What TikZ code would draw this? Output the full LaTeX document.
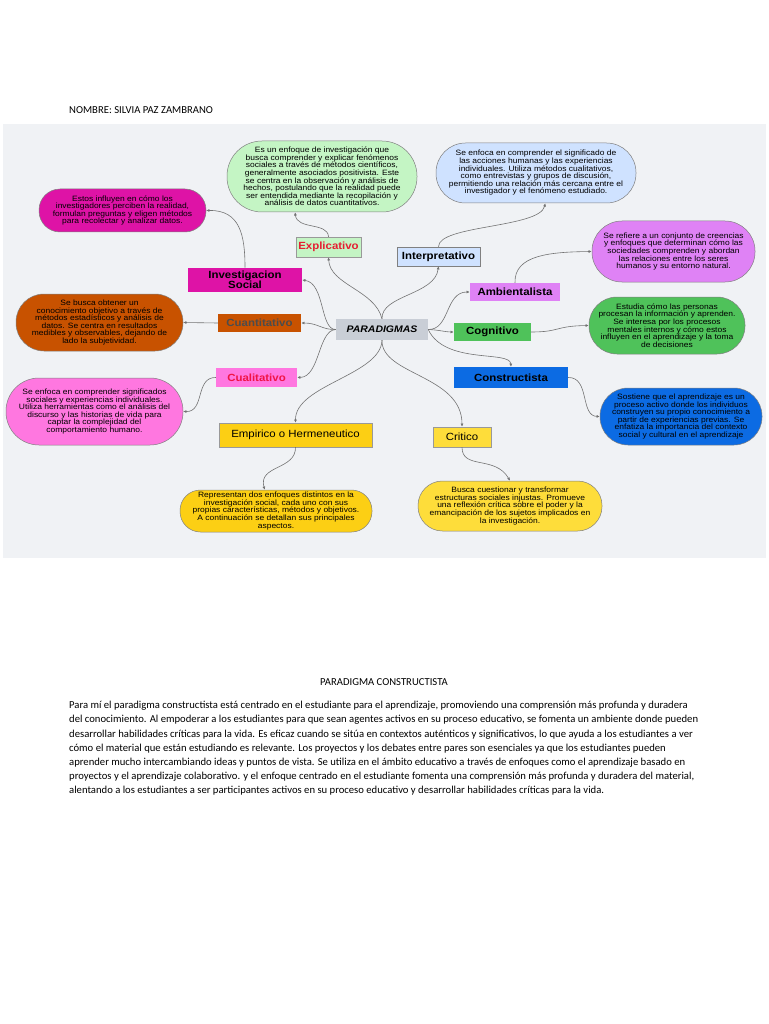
\documentclass[tikz,border=0pt]{standalone}
\usepackage{fontspec}
\setmainfont{Carlito}
\newfontfamily\mapfont[FakeStretch=1.1]{Liberation Sans}
\usetikzlibrary{arrows.meta}
\definecolor{panelbg}{HTML}{F0F2F5}
\definecolor{hubgray}{HTML}{C9CED6}
\definecolor{explgreen}{HTML}{C4F5C4}
\definecolor{interblue}{HTML}{CFE2FF}
\definecolor{invmag}{HTML}{DE13A6}
\definecolor{cuanorange}{HTML}{C85200}
\definecolor{ambpurple}{HTML}{DF82F5}
\definecolor{coggreen}{HTML}{4FC25A}
\definecolor{cualpink}{HTML}{FF77E0}
\definecolor{consblue}{HTML}{0C6BE3}
\definecolor{empamber}{HTML}{FCCF14}
\definecolor{criyellow}{HTML}{FEDD3A}
\tikzset{
  box/.style={rectangle,inner sep=0pt,align=center,font=\mapfont\fontsize{10.4}{10.5}\selectfont\bfseries},
  oval/.style={rectangle,draw=black!50,line width=0.5pt,inner sep=0pt,rounded corners=#1,align=center,font=\mapfont\fontsize{7.7}{7.6}\selectfont},
  conn/.style={draw=black!55,line width=0.6pt,-{Latex[length=3.2pt,width=3pt]}},
  doc/.style={inner sep=0pt,font=\fontsize{10.65}{14.2}\selectfont}
}
\begin{document}
\begin{tikzpicture}[x=1pt,y=-1pt]
    \useasboundingbox (0,0) rectangle (768,1024);
    \fill[white] (0,0) rectangle (768,1024);

    % Titolo
    \node[doc,anchor=west] (nombre) at (69,110.5) {NOMBRE: SILVIA PAZ ZAMBRANO};

    % Fondo del mapa
    \fill[panelbg] (3,124) rectangle (766,558);

    % Nodo central
    \node[box,fill=hubgray,minimum width=92pt,minimum height=21pt,font=\mapfont\fontsize{9.5}{10}\selectfont\bfseries\itshape] (hub) at (382,329.5) {PARADIGMAS};

    % Ramas
    \node[box,fill=explgreen,draw=black!40,minimum width=65pt,minimum height=20pt,text={rgb,255:red,230;green,30;blue,50}] (expl) at (328.5,247) {Explicativo};
    \node[box,fill=interblue,draw=black!50,minimum width=83pt,minimum height=19pt] (inter) at (438.5,256.5) {Interpretativo};
    \node[box,fill=invmag,minimum width=114pt,minimum height=24.5pt] (inv) at (245,280) {Investigacion\\Social};
    \node[box,fill=cuanorange,minimum width=83pt,minimum height=18pt,text=black!70] (cuan) at (259.5,323) {Cuantitativo};
    \node[box,fill=cualpink,minimum width=81pt,minimum height=19pt,text={rgb,255:red,240;green,20;blue,70}] (cual) at (256.5,377.5) {Cualitativo};
    \node[box,fill=ambpurple,minimum width=90pt,minimum height=18pt] (amb) at (515,292) {Ambientalista};
    \node[box,fill=coggreen,minimum width=77pt,minimum height=18pt] (cog) at (492.5,332) {Cognitivo};
    \node[box,fill=consblue,minimum width=114pt,minimum height=21pt] (cons) at (511,377.5) {Constructista};
    \node[box,fill=empamber,draw=black!40,minimum width=153pt,minimum height=24pt,font=\mapfont\fontsize{10.4}{11}\selectfont] (emp) at (295.5,435) {Empirico o Hermeneutico};
    \node[box,fill=criyellow,draw=black!40,minimum width=58pt,minimum height=20pt,font=\mapfont\fontsize{10.4}{11}\selectfont] (cri) at (462,437) {Critico};

    % Descripciones
    \node[oval=35pt,fill=explgreen,minimum width=190pt,minimum height=71pt] (descexpl) at (322,176.5) {Es un enfoque de investigación que\\busca comprender y explicar fenómenos\\sociales a través de métodos científicos,\\generalmente asociados  positivista. Este\\se centra en la observación y análisis de\\hechos, postulando que la realidad puede\\ser entendida mediante la recopilación y\\análisis de datos cuantitativos.};
    \node[oval=29.5pt,fill=interblue,minimum width=200pt,minimum height=60pt] (descinter) at (536,173) {Se enfoca en comprender el significado de\\las acciones humanas y las experiencias\\individuales. Utiliza métodos cualitativos,\\como entrevistas y grupos de discusión,\\permitiendo una relación más cercana entre el\\investigador y el fenómeno estudiado.};
    \node[oval=21pt,fill=invmag,minimum width=167pt,minimum height=43pt] (descinv) at (122.5,210.5) {Estos  influyen en cómo los\\investigadores perciben la realidad,\\formulan preguntas y eligen métodos\\para recolectar y analizar datos.};
    \node[oval=28pt,fill=cuanorange,minimum width=167pt,minimum height=57pt] (desccuan) at (99.5,322.5) {Se  busca obtener un\\conocimiento objetivo a través de\\métodos estadísticos y análisis de\\datos. Se centra en resultados\\medibles y observables, dejando de\\lado la subjetividad.};
    \node[oval=33pt,fill=cualpink,minimum width=177pt,minimum height=67pt] (desccual) at (94.5,411.5) {Se enfoca en comprender significados\\sociales y experiencias individuales.\\Utiliza herramientas como el análisis del\\discurso y las historias de vida para\\captar la complejidad del\\comportamiento humano.};
    \node[oval=30pt,fill=ambpurple,minimum width=163pt,minimum height=61pt] (descamb) at (673.5,251.5) {Se refiere a un conjunto de creencias\\y enfoques que determinan cómo las\\sociedades comprenden y abordan\\las relaciones entre los seres\\humanos y su entorno natural.};
    \node[oval=28pt,fill=coggreen,minimum width=156pt,minimum height=57pt] (desccog) at (667,325.5) {Estudia cómo las personas\\procesan la información y aprenden.\\Se interesa por los procesos\\mentales internos y cómo estos\\influyen en el aprendizaje y la toma\\de decisiones};
    \node[oval=28pt,fill=consblue,minimum width=162pt,minimum height=57pt] (desccons) at (681,416.5) {Sostiene que el aprendizaje es un\\proceso activo donde los individuos\\construyen su propio conocimiento a\\partir de experiencias previas. Se\\enfatiza la importancia del contexto\\social y cultural en el aprendizaje};
    \node[oval=20.5pt,fill=empamber,minimum width=192pt,minimum height=42pt] (descemp) at (276,511) {Representan dos enfoques distintos en la\\investigación social, cada uno con sus\\propias características, métodos y objetivos.\\A continuación se detallan sus principales\\aspectos.};
    \node[oval=24.5pt,fill=criyellow,minimum width=184pt,minimum height=50pt] (desccri) at (510,506) {Busca cuestionar y transformar\\estructuras sociales injustas. Promueve\\una reflexión crítica sobre el poder y la\\emancipación de los sujetos implicados en\\la investigación.};

    % Conectores desde el centro
    \draw[conn] (hub.north) .. controls (375,290) and (330,285) .. (expl.south);
    \draw[conn] (hub.north) .. controls (381,295) and (435,295) .. (inter.south);
    \draw[conn] (hub.west) .. controls (320,330) and (325,283) .. (inv.east);
    \draw[conn] (hub.west) .. controls (322,330) and (318,323) .. (cuan.east);
    \draw[conn] (hub.west) .. controls (318,330) and (320,377) .. (cual.east);
    \draw[conn] (hub.east) .. controls (450,330) and (445,292) .. (amb.west);
    \draw[conn] (hub.east) .. controls (440,330) and (445,332) .. (cog.west);
    \draw[conn] (hub.east) .. controls (445,365) and (510,350) .. (cons.north);
    \draw[conn] (hub.south) .. controls (381,375) and (295,385) .. (emp.north);
    \draw[conn] (hub.south) .. controls (381,375) and (462,375) .. (cri.north);

    % Conectores a las descripciones
    \draw[conn] (expl.north) .. controls (328,222) and (297,230) .. (descexpl.233);
    \draw[conn] (inter.north) .. controls (438,225) and (540,228) .. (descinter.287);
    \draw[conn] (inv.north) .. controls (245,235) and (240,210) .. (descinv.east);
    \draw[conn] (cuan.west) -- (desccuan.east);
    \draw[conn] (cual.west) .. controls (195,377) and (205,412) .. (desccual.east);
    \draw[conn] (amb.north) .. controls (514,255) and (550,252) .. (descamb.west);
    \draw[conn] (cog.east) .. controls (560,332) and (555,326) .. (desccog.west);
    \draw[conn] (cons.east) .. controls (590,377) and (580,416) .. (desccons.west);
    \draw[conn] (emp.south) .. controls (296,470) and (258,465) .. (descemp.118);
    \draw[conn] (cri.south) .. controls (462,470) and (495,455) .. (desccri.north);

    % Texto inferior
    \node[doc] (titulo) at (384,682) {PARADIGMA CONSTRUCTISTA};
    \node[doc,anchor=north west,align=left] (parrafo) at (69,701) {Para mí el paradigma constructista está centrado en el estudiante para el aprendizaje, promoviendo una comprensión más profunda y duradera\\
del conocimiento. Al empoderar a los estudiantes para que sean agentes activos en su proceso educativo, se fomenta un ambiente donde pueden\\
desarrollar habilidades críticas para la vida. Es eficaz cuando se sitúa en contextos auténticos y significativos, lo que ayuda a los estudiantes a ver\\
cómo el material que están estudiando es relevante. Los proyectos y los debates entre pares son esenciales ya que los estudiantes pueden\\
aprender mucho intercambiando ideas y puntos de vista. Se utiliza en el ámbito educativo a través de enfoques como el aprendizaje basado en\\
proyectos y el aprendizaje colaborativo. y el enfoque centrado en el estudiante fomenta una comprensión más profunda y duradera del material,\\
alentando a los estudiantes a ser participantes activos en su proceso educativo y desarrollar habilidades críticas para la vida.};
\end{tikzpicture}
\end{document}
